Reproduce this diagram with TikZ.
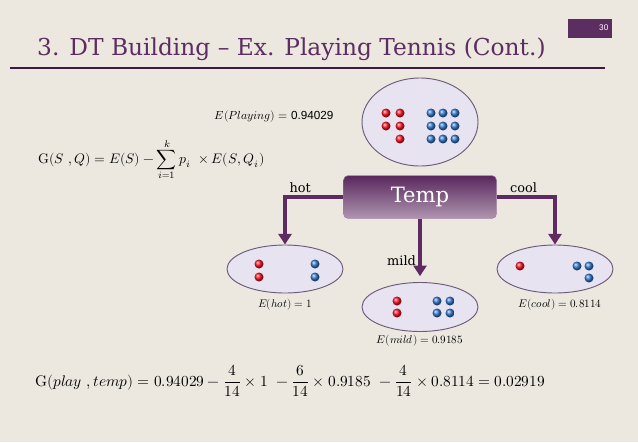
\documentclass[tikz,border=0pt]{standalone}
\usepackage{amsmath}
\usepackage{fontspec}
\usepackage{unicode-math}
\setmainfont{DejaVu Serif}
\setsansfont{Liberation Sans}
\setmathfont{Latin Modern Math}
\usetikzlibrary{positioning, arrows.meta, shapes.geometric}

\definecolor{slidebg}{HTML}{ECE8E0}
\definecolor{titlepurple}{HTML}{5C2D60}
\definecolor{rulepurple}{HTML}{3C1A40}
\definecolor{setfill}{HTML}{E7E3F0}
\definecolor{setline}{HTML}{6E5A7A}
\definecolor{branchpurple}{HTML}{5E2A62}
\definecolor{dotred}{HTML}{FF1020}
\definecolor{dotblue}{HTML}{3078D0}

\begin{document}
\begin{tikzpicture}[
  x=0.03cm, y=-0.03cm,
  font=\small,
  title/.style={text=titlepurple, font=\fontsize{19.9}{23}\selectfont, inner sep=0pt},
  pagebox/.style={fill=titlepurple, minimum width=1.32cm, minimum height=0.57cm, inner sep=2pt, text=white, font=\sffamily\scriptsize, align=right, text width=1.1cm},
  set/.style={ellipse, draw=setline, fill=setfill, line width=0.8pt, minimum width=3.48cm, minimum height=1.44cm, inner sep=0pt},
  attr/.style={draw=branchpurple!60, rounded corners=4pt, top color=branchpurple!95!black, bottom color=branchpurple!50!white, minimum width=4.59cm, minimum height=1.29cm, text=white, font=\fontsize{18}{20}\selectfont},
  branch/.style={draw=branchpurple, line width=3pt, -{Triangle[length=9pt, width=11pt]}},
  vlabel/.style={font=\fontsize{11}{13}\selectfont, inner sep=2pt},
  elabel/.style={font=\fontsize{9.5}{11}\selectfont, inner sep=1pt},
  formula/.style={font=\fontsize{11.8}{14}\selectfont, inner sep=0pt}
]
% slide background (also fixes the bounding box)
\fill[slidebg] (0,0) rectangle (638,442);

% title, page number and rule
\node[title, anchor=base west] (title) at (37,55) {3. DT Building -- Ex. Playing Tennis (Cont.)};
\node[pagebox] (page) at (590,28) {30};
\draw[rulepurple, line width=2.5pt] (10,68) -- (605,68);

% sets: whole data and one per value of Temp
\node[set, minimum height=2.64cm] (root) at (420,122) {};
\node[set] (hot)  at (285,269) {};
\node[set, minimum height=1.47cm] (mild) at (420,307) {};
\node[set] (cool) at (555,269) {};

% examples inside each set
\foreach \x/\y in {386/113, 400/113, 386/126, 400/126, 400/139, 259/264, 259/277, 397/301, 397/313, 520/266}
  \shade[ball color=dotred] (\x,\y) circle[radius=0.135cm];
\foreach \x/\y in {431/113, 443/113, 455/113, 431/126, 443/126, 455/126, 431/139, 443/139, 455/139,
                   315/264, 315/277, 437/301, 450/301, 437/313, 450/313, 577/266, 589/266, 589/278}
  \shade[ball color=dotblue] (\x,\y) circle[radius=0.135cm];

% split attribute
\node[attr] (temp) at (420,197) {Temp};

% branches
\draw[branch] (temp.west) -| (hot.north) node[vlabel, pos=0.37, above] {hot};
\draw[branch] (temp.east) -| (cool.north) node[vlabel, pos=0.23, above] {cool};
\draw[branch, shorten >=5pt] (temp.south) -- (mild.north) node[vlabel, pos=0.66, left] {mild};

% entropies
\node[elabel, left=0.8cm of root, yshift=0.15cm, font=\fontsize{10}{12}\selectfont] (eplay) {$E(Playing) =$ {\sffamily 0.94029}};
\node[elabel, below=0.12cm of hot] (ehot) {$E(hot) = 1$};
\node[elabel, below=0.05cm of mild] (emild) {$E(mild) = 0.9185$};
\node[elabel, below=0.12cm of cool, xshift=0.15cm] (ecool) {$E(cool) = 0.8114$};

% gain formulas
\node[formula, anchor=west] (gdef) at (38,160) {$\displaystyle \symup{G}(S\ ,Q) = E(S) - \sum_{i=1}^{k} p_i\ \times E(S,Q_i)$};
\node[formula, anchor=west, font=\fontsize{13.1}{16}\selectfont] (gtemp) at (35,381) {$\displaystyle \symup{G}(play\ ,temp) = 0.94029 - \frac{4}{14}\times 1\ - \frac{6}{14}\times 0.9185\ - \frac{4}{14}\times 0.8114 = 0.02919$};
\end{tikzpicture}
\end{document}
